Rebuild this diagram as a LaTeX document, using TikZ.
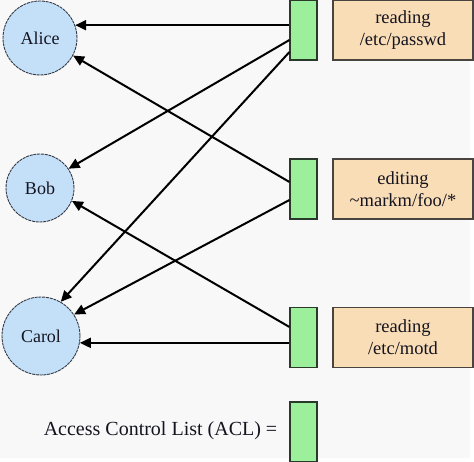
\documentclass[tikz,border=0pt]{standalone}
\usepackage{fontspec}
\setmainfont{Liberation Serif}
\usetikzlibrary{calc,arrows.meta}
\definecolor{bgc}{HTML}{F8F8F8}
\definecolor{userfill}{HTML}{C4E0F8}
\definecolor{userline}{HTML}{333844}
\definecolor{aclfill}{HTML}{9CF09C}
\definecolor{aclline}{HTML}{2A3A2A}
\definecolor{objfill}{HTML}{F9DDB6}
\definecolor{objline}{HTML}{4A4440}
\definecolor{txt}{HTML}{141420}
\tikzset{
  user/.style={circle, draw=userline, fill=userfill, line width=0.9pt,
    dash pattern=on 3pt off 0.8pt, inner sep=0pt, text=txt,
    font=\fontsize{18}{20}\selectfont},
  acl/.style={rectangle, draw=aclline, fill=aclfill, line width=1.1pt,
    minimum width=27pt, minimum height=60pt, inner sep=0pt},
  obj/.style={rectangle, draw=objline, fill=objfill, line width=1.1pt,
    minimum width=140pt, minimum height=60pt, inner sep=0pt, align=center,
    text=txt, font=\fontsize{18.5}{22}\selectfont},
  arr/.style={line width=2pt, -{Triangle[length=11pt,width=10pt]}}
}
\begin{document}
\begin{tikzpicture}[x=1pt,y=-1pt]
\useasboundingbox (0,0) rectangle (474,462);
\fill[white] (0,0) rectangle (474,462);
\fill[bgc] (0,0) rectangle (470,458);
% users
\node[user, minimum size=74pt] (alice) at (40,38) {Alice};
\node[user, minimum size=68pt] (bob) at (40,188) {Bob};
\node[user, minimum size=78pt] (carol) at (41,336) {Carol};
% ACL entries
\node[acl] (r1) at (303.5,30) {};
\node[acl] (r2) at (303.5,189) {};
\node[acl] (r3) at (303.5,337.5) {};
\node[acl] (r4) at (303.5,432) {};
% objects
\node[obj] (o1) at (403,30) {reading\\/etc/passwd};
\node[obj] (o2) at (403,189) {editing\\\textasciitilde markm/foo/*};
\node[obj] (o3) at (403,337.5) {reading\\/etc/motd};
% legend
\node[anchor=east, inner sep=0pt, text=txt, font=\fontsize{20}{22}\selectfont]
  (legend) at ($(r4.west)+(-12,-1)$) {Access Control List (ACL) =};
% arrows
\draw[arr] (alice.20 -| r1.west) -- (alice.20);
\draw[arr] ($(r1.west)+(0,10)$) -- (bob.34);
\draw[arr] ($(r1.west)+(0,22)$) -- (carol.60);
\draw[arr] ($(r2.west)+(0,-7)$) -- (alice.-28);
\draw[arr] ($(r2.west)+(0,11)$) -- (carol.33);
\draw[arr] ($(r3.west)+(0,-10.5)$) -- (bob.-22);
\draw[arr] (carol.-10 -| r3.west) -- (carol.-10);
\end{tikzpicture}
\end{document}
